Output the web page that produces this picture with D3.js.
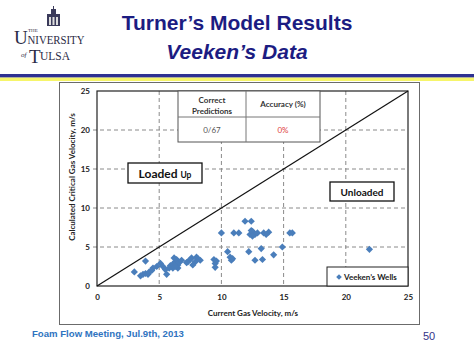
<!DOCTYPE html>
<html><head><meta charset="utf-8">
<script src="https://cdn.jsdelivr.net/npm/d3@7"></script>
<style>body{margin:0;background:#fff}svg{display:block}</style>
</head><body>
<script>
const xTicks = [0, 5, 10, 15, 20, 25];
const yTicks = [0, 5, 10, 15, 20, 25];
const currentVel = [3.0,3.5,3.7,3.9,4.1,4.2,3.9,4.5,4.8,5.1,5.3,5.5,5.6,5.9,6.1,6.3,6.4,6.5,6.5,6.1,6.6,6.3,7.3,7.6,7.9,7.7,8.0,8.3,7.5,9.4,9.5,9.5,9.6,10.0,10.5,10.7,10.8,11.0,11.4,11.9,12.4,12.2,12.7,12.3,12.5,12.6,12.4,12.7,12.5,13.2,13.3,13.4,13.8,13.6,14.2,14.9,15.5,15.7,21.9,4.4,5.8,7.2,8.1,6.8,12.9,6.2,10.9];
const criticalVel = [1.8,1.3,1.5,1.6,1.5,1.8,3.2,2.3,2.5,2.9,2.5,2.1,1.5,2.6,2.8,3.1,3.4,2.7,2.3,2.3,3.0,2.5,3.1,3.6,3.1,2.7,3.7,3.3,3.4,3.4,2.9,2.4,3.2,6.8,4.4,3.7,3.3,6.8,6.8,8.3,8.3,4.4,3.3,6.6,7.0,6.8,7.1,6.6,6.4,4.8,3.4,6.8,6.9,6.6,4.0,5.0,6.8,6.8,4.7,2.0,2.3,3.0,3.5,3.3,6.8,3.6,3.5];
const tableHeaders = [["Correct", "Predictions"], ["Accuracy (%)"]];
const tableValues = ["0/67", "0%"];
const seriesName = "Veeken\u2019s Wells";

const W = 474, H = 355;
const svg = d3.select("body").append("svg").attr("width", W).attr("height", H);

// ---------- slide header ----------
const titleColor = "#1c1c82";
svg.append("text").attr("x", 237).attr("y", 30).attr("text-anchor", "middle")
  .attr("font-family", "Liberation Sans, Arial, sans-serif").attr("font-weight", "bold")
  .attr("font-size", 21).attr("fill", titleColor).text("Turner\u2019s Model Results");
svg.append("text").attr("x", 237).attr("y", 59).attr("text-anchor", "middle")
  .attr("font-family", "Liberation Sans, Arial, sans-serif").attr("font-weight", "bold")
  .attr("font-style", "italic").attr("font-size", 21).attr("fill", titleColor).text("Veeken\u2019s Data");

svg.append("rect").attr("x", 0).attr("y", 74).attr("width", W).attr("height", 3.6).attr("fill", "#2e3192");
svg.append("rect").attr("x", 0).attr("y", 77.6).attr("width", W).attr("height", 3.4).attr("fill", "#f6f56a");

// logo
const logo = svg.append("g").attr("fill", "#2b2b45").attr("font-family", "Liberation Serif, serif");
logo.append("rect").attr("x", 47).attr("y", 14).attr("width", 13).attr("height", 12).attr("fill", "#3a3a5a");
logo.append("rect").attr("x", 51).attr("y", 9).attr("width", 5).attr("height", 6).attr("fill", "#3a3a5a");
logo.append("rect").attr("x", 53).attr("y", 6).attr("width", 1).attr("height", 3).attr("fill", "#3a3a5a");
[49, 52.5, 56].forEach(x => logo.append("rect").attr("x", x).attr("y", 17).attr("width", 2).attr("height", 8).attr("fill", "#ddd"));
logo.append("text").attr("x", 14).attr("y", 44).attr("font-size", 19).text("U");
logo.append("text").attr("x", 28).attr("y", 32).attr("font-size", 5).text("THE");
logo.append("text").attr("x", 27.5).attr("y", 44).attr("font-size", 12.5)
  .attr("textLength", 57).attr("lengthAdjust", "spacingAndGlyphs").text("NIVERSITY");
logo.append("text").attr("x", 21).attr("y", 57).attr("font-size", 7).attr("font-style", "italic").text("of");
logo.append("text").attr("x", 29).attr("y", 63).attr("font-size", 19).text("T");
logo.append("text").attr("x", 40).attr("y", 60).attr("font-size", 12.5)
  .attr("textLength", 30).attr("lengthAdjust", "spacingAndGlyphs").text("ULSA");

// ---------- chart ----------
svg.append("rect").attr("x", 59.5).attr("y", 82.5).attr("width", 360).attr("height", 242)
  .attr("fill", "#fff").attr("stroke", "#6b6b6b").attr("stroke-width", 1);

const x = d3.scaleLinear().domain([0, 25]).range([97, 408]);
const y = d3.scaleLinear().domain([0, 25]).range([286, 91]);
const chartFont = "Lato, 'Open Sans', sans-serif";

// gridlines
svg.append("g").selectAll("line").data(yTicks.filter(d => d > 0 && d < 25)).join("line")
  .attr("x1", x(0) - 4).attr("x2", x(25)).attr("y1", d => y(d)).attr("y2", d => y(d))
  .attr("stroke", "#8a8a8a").attr("stroke-width", 1).attr("stroke-dasharray", "4,3");
svg.append("g").selectAll("line").data(xTicks.filter(d => d > 0 && d < 25)).join("line")
  .attr("x1", d => x(d)).attr("x2", d => x(d)).attr("y1", y(25)).attr("y2", y(0))
  .attr("stroke", "#8a8a8a").attr("stroke-width", 1).attr("stroke-dasharray", "4,3");

// plot border
svg.append("rect").attr("x", x(0)).attr("y", y(25)).attr("width", x(25) - x(0)).attr("height", y(0) - y(25))
  .attr("fill", "none").attr("stroke", "#222").attr("stroke-width", 1.2);

// axes
const yAxis = svg.append("g").attr("transform", `translate(${x(0)},0)`)
  .call(d3.axisLeft(y).tickValues(yTicks).tickSize(0).tickPadding(7).tickFormat(d3.format("d")));
const xAxis = svg.append("g").attr("transform", `translate(0,${y(0)})`)
  .call(d3.axisBottom(x).tickValues(xTicks).tickSize(0).tickPadding(8).tickFormat(d3.format("d")));
[xAxis, yAxis].forEach(a => {
  a.select(".domain").remove();
  a.selectAll("text").attr("font-family", chartFont).attr("font-weight", "bold").attr("font-size", 8).attr("fill", "#222");
});

// diagonal line
svg.append("line").attr("x1", x(0)).attr("y1", y(0)).attr("x2", x(25)).attr("y2", y(25))
  .attr("stroke", "#111").attr("stroke-width", 1.2);

// points
const pts = currentVel.map((v, i) => [v, criticalVel[i]]);
const diamond = "M0,-3.6L3.6,0L0,3.6L-3.6,0Z";
svg.append("g").selectAll("path").data(pts).join("path")
  .attr("d", diamond).attr("transform", d => `translate(${x(d[0])},${y(d[1])})`)
  .attr("fill", "#4a7ebb");

// axis titles
svg.append("text").attr("x", 253).attr("y", 316).attr("text-anchor", "middle")
  .attr("font-family", chartFont).attr("font-weight", "bold").attr("font-size", 8).attr("fill", "#222")
  .text("Current Gas Velocity, m/s");
svg.append("text").attr("transform", "translate(75,177) rotate(-90)").attr("text-anchor", "middle")
  .attr("font-family", chartFont).attr("font-weight", "bold").attr("font-size", 8).attr("fill", "#222")
  .text("Calculated Critical Gas Velocity, m/s");

// table
const tb = svg.append("g");
tb.append("rect").attr("x", 178).attr("y", 91).attr("width", 142).attr("height", 51)
  .attr("fill", "#fff").attr("stroke", "#555").attr("stroke-width", 1);
tb.append("line").attr("x1", 246).attr("x2", 246).attr("y1", 91).attr("y2", 142).attr("stroke", "#777");
tb.append("line").attr("x1", 178).attr("x2", 320).attr("y1", 117).attr("y2", 117).attr("stroke", "#777");
const colX = [212, 283];
tableHeaders[0].forEach((t, i) => tb.append("text").attr("x", colX[0]).attr("y", 103 + i * 10.5)
  .attr("text-anchor", "middle").attr("font-family", chartFont).attr("font-weight", "bold")
  .attr("font-size", 8).attr("fill", "#333").text(t));
tb.append("text").attr("x", colX[1]).attr("y", 107).attr("text-anchor", "middle").attr("font-family", chartFont)
  .attr("font-weight", "bold").attr("font-size", 8).attr("fill", "#333").text(tableHeaders[1][0]);
tb.append("text").attr("x", colX[0]).attr("y", 133).attr("text-anchor", "middle").attr("font-family", chartFont)
  .attr("font-size", 8).attr("fill", "#555").text(tableValues[0]);
tb.append("text").attr("x", colX[1]).attr("y", 133).attr("text-anchor", "middle").attr("font-family", chartFont)
  .attr("font-size", 8).attr("fill", "#e03c3c").text(tableValues[1]);

// annotation boxes
svg.append("rect").attr("x", 128).attr("y", 163).attr("width", 74).attr("height", 20)
  .attr("fill", "#fff").attr("stroke", "#111").attr("stroke-width", 1.3);
const lu = svg.append("text").attr("x", 165).attr("y", 177.5).attr("text-anchor", "middle")
  .attr("font-family", chartFont).attr("font-weight", "bold").attr("fill", "#111");
lu.append("tspan").attr("font-size", 12).text("Loaded ");
lu.append("tspan").attr("font-size", 8.5).text("Up");

svg.append("rect").attr("x", 330).attr("y", 182).attr("width", 64).attr("height", 19)
  .attr("fill", "#fff").attr("stroke", "#111").attr("stroke-width", 1.3);
svg.append("text").attr("x", 362).attr("y", 195.5).attr("text-anchor", "middle")
  .attr("font-family", chartFont).attr("font-weight", "bold").attr("font-size", 10).attr("fill", "#111").text("Unloaded");

// legend
svg.append("rect").attr("x", 327).attr("y", 267).attr("width", 81).attr("height", 19)
  .attr("fill", "#fff").attr("stroke", "#222").attr("stroke-width", 1);
svg.append("path").attr("d", "M0,-2.8L2.8,0L0,2.8L-2.8,0Z").attr("transform", "translate(339,277)").attr("fill", "#4a7ebb");
svg.append("text").attr("x", 344).attr("y", 280).attr("font-family", chartFont).attr("font-weight", "bold")
  .attr("font-size", 8).attr("fill", "#222").text(seriesName);

// footer
svg.append("text").attr("x", 32).attr("y", 336.5).attr("font-family", "Liberation Sans, Arial, sans-serif")
  .attr("font-weight", "bold").attr("font-size", 9.6).attr("fill", "#2f74bf").text("Foam Flow Meeting, Jul.9th, 2013");
svg.append("text").attr("x", 423).attr("y", 340).attr("font-family", "Liberation Sans, Arial, sans-serif")
  .attr("font-size", 11).attr("fill", "#333388").text("50");
</script>
</body></html>
